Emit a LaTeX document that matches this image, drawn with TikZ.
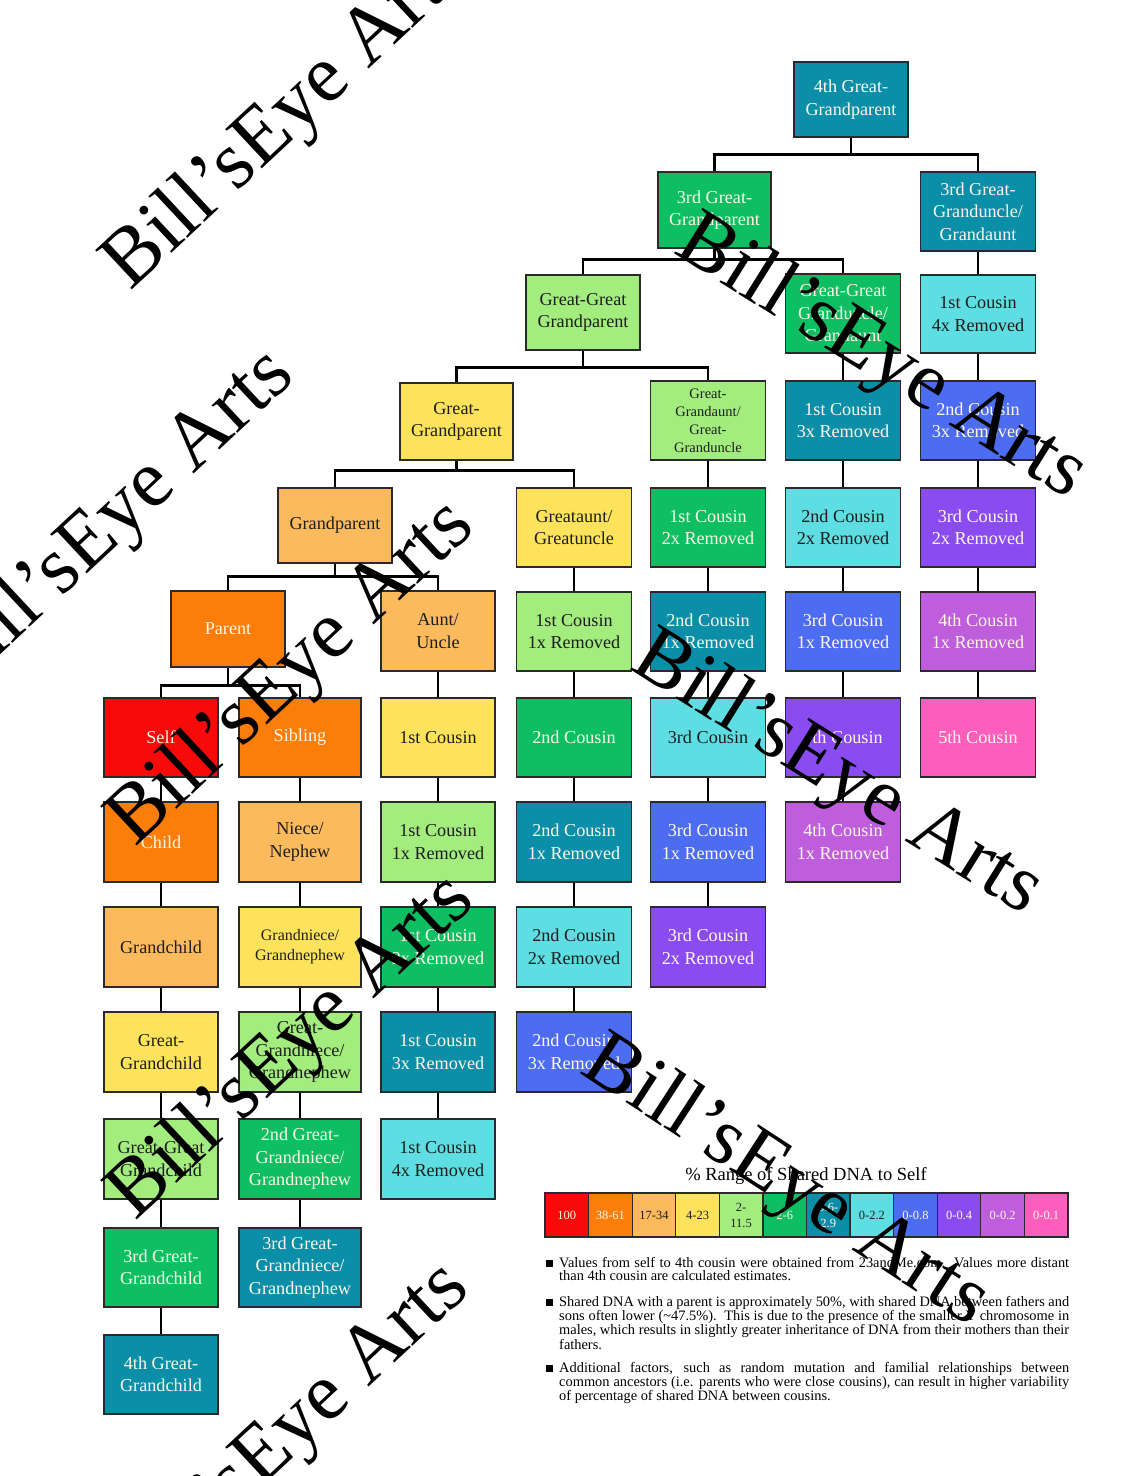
\documentclass[tikz,border=0pt]{standalone}
\usepackage{fontspec}
\setmainfont{Liberation Serif}
\usetikzlibrary{calc}
\definecolor{cRed}{HTML}{F80A0A}
\definecolor{cOrange}{HTML}{FB7D0A}
\definecolor{cLOrange}{HTML}{FCBA5C}
\definecolor{cYellow}{HTML}{FDE35C}
\definecolor{cLGreen}{HTML}{A3EC7E}
\definecolor{cGreen}{HTML}{0EBE62}
\definecolor{cTeal}{HTML}{0B8FA8}
\definecolor{cCyan}{HTML}{5EDEE2}
\definecolor{cBlue}{HTML}{4C6CF2}
\definecolor{cPurple}{HTML}{8A4CF0}
\definecolor{cViolet}{HTML}{BE5EDC}
\definecolor{cPink}{HTML}{FB5EBC}
\definecolor{cLight}{HTML}{FFF6E8}
\definecolor{cDark}{HTML}{1E1E1E}
\definecolor{cEdge}{HTML}{2A2A2A}
\tikzset{
  box/.style={draw=cEdge, line width=1.5pt, minimum width=115pt, minimum height=80pt,
    inner sep=0pt, align=center, font=\fontsize{18.2}{22.5}\selectfont},
  small/.style={font=\fontsize{14.5}{18}\selectfont},
  smallish/.style={font=\fontsize{16}{20}\selectfont},
  kRed/.style={fill=cRed,text=cLight},
  kOrange/.style={fill=cOrange,text=cLight},
  kLOrange/.style={fill=cLOrange,text=cDark},
  kYellow/.style={fill=cYellow,text=cDark},
  kLGreen/.style={fill=cLGreen,text=cDark},
  kGreen/.style={fill=cGreen,text=cLight},
  kTeal/.style={fill=cTeal,text=cLight},
  kCyan/.style={fill=cCyan,text=cDark},
  kBlue/.style={fill=cBlue,text=cLight},
  kPurple/.style={fill=cPurple,text=cLight},
  kViolet/.style={fill=cViolet,text=cLight},
  kPink/.style={fill=cPink,text=cLight},
  conn/.style={line width=2.6pt, draw=black},
  cell/.style={draw=cEdge, line width=1.3pt, minimum width=43.6pt, minimum height=44pt,
    inner sep=0pt, align=center, font=\fontsize{12.5}{16}\selectfont},
  note/.style={anchor=north west, inner sep=0pt, text width=510pt, align=justify,
    font=\fontsize{14.4}{13}\selectfont},
  bul/.style={fill=black, minimum size=7pt, inner sep=0pt},
  wm/.style={font=\fontsize{82}{82}\selectfont, text=black, inner sep=0pt, anchor=base west},
}
\begin{document}
\begin{tikzpicture}[x=1pt,y=-1pt]
\useasboundingbox (0,0) rectangle (1140,1476);
\fill[white] (0,0) rectangle (1140,1476);
\clip (0,0) rectangle (1140,1476);

% ancestors
\node[box,kTeal,minimum width=114pt,minimum height=75pt] (gg4) at (851,99.5) {4th Great-\\Grandparent};
\node[box,kGreen,minimum width=113pt,minimum height=76pt] (gg3) at (714.5,210) {3rd Great-\\Grandparent};
\node[box,kTeal,minimum height=79pt] (gu3) at (978,211.5) {3rd Great-\\Granduncle/\\Grandaunt};
\node[box,kLGreen,minimum width=114pt,minimum height=75pt] (gg2) at (583,312.5) {Great-Great\\Grandparent};
\node[box,kGreen,minimum height=79pt] (gu2) at (843,313.5) {Great-Great\\Granduncle/\\Grandaunt};
\node[box,kCyan,minimum height=78pt] (c14G) at (978,314) {1st Cousin\\4x Removed};
\node[box,kYellow,minimum width=113pt,minimum height=77pt] (gg1) at (456.5,421.5) {Great-\\Grandparent};
\node[box,kLGreen,small,minimum height=79pt] (gu1) at (708,420.5) {Great-\\Grandaunt/\\Great-\\Granduncle};
\node[box,kTeal,minimum height=79pt] (c13F) at (843,420.5) {1st Cousin\\3x Removed};
\node[box,kBlue,minimum height=79pt] (c23G) at (978,420.5) {2nd Cousin\\3x Removed};
\node[box,kLOrange,minimum width=114pt,minimum height=75pt] (gp) at (335,525.5) {Grandparent};
\node[box,kYellow,minimum height=79pt] (gu) at (574,527.5) {Greataunt/\\Greatuncle};
\node[box,kGreen,minimum height=79pt] (c12E) at (708,527.5) {1st Cousin\\2x Removed};
\node[box,kCyan,minimum height=79pt] (c22F) at (843,527.5) {2nd Cousin\\2x Removed};
\node[box,kPurple,minimum height=79pt] (c32G) at (978,527.5) {3rd Cousin\\2x Removed};
\node[box,kOrange,minimum width=114pt,minimum height=76pt] (par) at (228,629) {Parent};
\node[box,kLOrange,minimum width=114pt] (au) at (438,631) {Aunt/\\Uncle};
\node[box,kLGreen,minimum height=79pt] (c11D) at (574,631.5) {1st Cousin\\1x Removed};
\node[box,kTeal,minimum height=79pt] (c21E) at (708,631.5) {2nd Cousin\\1x Removed};
\node[box,kBlue,minimum height=79pt] (c31F) at (843,631.5) {3rd Cousin\\1x Removed};
\node[box,kViolet,minimum height=79pt] (c41G) at (978,631.5) {4th Cousin\\1x Removed};

% row self
\node[box,kRed,minimum width=114pt,minimum height=79pt] (self) at (161,737.5) {Self};
\node[box,kOrange,minimum width=122pt,minimum height=79pt] (sib) at (300,737.5) {Sibling};
\node[box,kYellow,minimum width=114pt,minimum height=79pt] (c1) at (438,737.5) {1st Cousin};
\node[box,kGreen,minimum height=79pt] (c2) at (574,737.5) {2nd Cousin};
\node[box,kCyan,minimum height=79pt] (c3) at (708,737.5) {3rd Cousin};
\node[box,kPurple,minimum height=79pt] (c4) at (843,737.5) {4th Cousin};
\node[box,kPink,minimum height=79pt] (c5) at (978,737.5) {5th Cousin};

% row child
\node[box,kOrange,minimum width=114pt] (ch1) at (161,842) {Child};
\node[box,kLOrange,minimum width=122pt] (nn1) at (300,842) {Niece/\\Nephew};
\node[box,kLGreen,minimum width=114pt] (c11C) at (438,842) {1st Cousin\\1x Removed};
\node[box,kTeal] (c21D) at (574,842) {2nd Cousin\\1x Removed};
\node[box,kBlue] (c31E) at (708,842) {3rd Cousin\\1x Removed};
\node[box,kViolet] (c41F) at (843,842) {4th Cousin\\1x Removed};

% row grandchild
\node[box,kLOrange,minimum width=114pt] (ch2) at (161,947) {Grandchild};
\node[box,kYellow,smallish,minimum width=122pt] (nn2) at (300,947) {Grandniece/\\Grandnephew};
\node[box,kGreen,minimum width=114pt] (c12C) at (438,947) {1st Cousin\\2x Removed};
\node[box,kCyan] (c22D) at (574,947) {2nd Cousin\\2x Removed};
\node[box,kPurple] (c32E) at (708,947) {3rd Cousin\\2x Removed};

% row great-grandchild
\node[box,kYellow,minimum width=114pt] (ch3) at (161,1052) {Great-\\Grandchild};
\node[box,kLGreen,minimum width=122pt] (nn3) at (300,1052) {Great-\\Grandniece/\\Grandnephew};
\node[box,kTeal,minimum width=114pt] (c13C) at (438,1052) {1st Cousin\\3x Removed};
\node[box,kBlue] (c23D) at (574,1052) {2nd Cousin\\3x Removed};

% row great-great
\node[box,kLGreen,minimum width=114pt] (ch4) at (161,1159) {Great-Great\\Grandchild};
\node[box,kGreen,minimum width=122pt] (nn4) at (300,1159) {2nd Great-\\Grandniece/\\Grandnephew};
\node[box,kCyan,minimum width=114pt] (c14C) at (438,1159) {1st Cousin\\4x Removed};

% row 3rd great
\node[box,kGreen,minimum width=114pt,minimum height=79pt] (ch5) at (161,1267.5) {3rd Great-\\Grandchild};
\node[box,kTeal,minimum width=122pt,minimum height=79pt] (nn5) at (300,1267.5) {3rd Great-\\Grandniece/\\Grandnephew};

% row 4th great
\node[box,kTeal,minimum width=114pt,minimum height=79pt] (ch6) at (161,1374.5) {4th Great-\\Grandchild};

% branches
\draw[conn] (gg4.south) -- ++(0,17) -| (gg3.north);
\draw[conn] (gg4.south) -- ++(0,17) -| (gu3.north);
\draw[conn] (gg3.south) -- ++(0,11) -| (gg2.north);
\draw[conn] (gg3.south) -- ++(0,11) -| (gu2.north);
\draw[conn] (gg2.south) -- ++(0,17) -| (gg1.north);
\draw[conn] (gg2.south) -- ++(0,17) -| (gu1.north);
\draw[conn] (gg1.south) -- ++(0,10) -| (gp.north);
\draw[conn] (gg1.south) -- ++(0,10) -| (gu.north);
\draw[conn] (gp.south) -- ++(0,13) -| (par.north);
\draw[conn] (gp.south) -- ++(0,13) -| (au.north);
\draw[conn] (par.south) -- ++(0,18) -| (self.north);
\draw[conn] (par.south) -- ++(0,18) -| (sib.north);

% columns
\foreach \a/\b in {self/ch1,ch1/ch2,ch2/ch3,ch3/ch4,ch4/ch5,ch5/ch6,
  sib/nn1,nn1/nn2,nn2/nn3,nn3/nn4,nn4/nn5,
  au/c1,c1/c11C,c11C/c12C,c12C/c13C,c13C/c14C,
  gu/c11D,c11D/c2,c2/c21D,c21D/c22D,c22D/c23D,
  gu1/c12E,c12E/c21E,c21E/c3,c3/c31E,c31E/c32E,
  gu2/c13F,c13F/c22F,c22F/c31F,c31F/c4,c4/c41F,
  gu3/c14G,c14G/c23G,c23G/c32G,c32G/c41G,c41G/c5}
  \draw[conn] (\a.south) -- (\b.north);

% legend
\node[font=\fontsize{18.5}{20}\selectfont, inner sep=0pt] (ltitle) at (806,1176) {\% Range of Shared DNA to Self};
\node[cell,kRed] (l1) at (566.8,1215) {100};
\node[cell,kOrange] (l2) at (610.4,1215) {38-61};
\node[cell,kLOrange] (l3) at (654.0,1215) {17-34};
\node[cell,kYellow] (l4) at (697.6,1215) {4-23};
\node[cell,kLGreen] (l5) at (741.1,1215) {2-\\11.5};
\node[cell,kGreen] (l6) at (784.7,1215) {2-6};
\node[cell,kTeal] (l7) at (828.3,1215) {0.6-\\2.9};
\node[cell,kCyan] (l8) at (871.9,1215) {0-2.2};
\node[cell,kBlue] (l9) at (915.5,1215) {0-0.8};
\node[cell,kPurple] (l10) at (959.1,1215) {0-0.4};
\node[cell,kViolet] (l11) at (1002.6,1215) {0-0.2};
\node[cell,kPink] (l12) at (1046.2,1215) {0-0.1};

% notes
\node[bul] (b1) at (549.5,1263.5) {};
\node[note] (n1) at (559,1257) {Values from self to 4th cousin were obtained from 23andMe.com.\ \ Values more distant\linebreak than 4th cousin are calculated estimates.};
\node[bul] (b2) at (549.5,1302.5) {};
\node[note] (n2) at (559,1296) {Shared DNA with a parent is approximately 50\%, with shared DNA between fathers and\linebreak sons often lower (\textasciitilde47.5\%).\ \ This is due to the presence of the smaller Y chromosome in\linebreak males, which results in slightly greater inheritance of DNA from their mothers than their\linebreak fathers.};
\node[bul] (b3) at (549.5,1368.5) {};
\node[note] (n3) at (559,1362) {Additional factors, such as random mutation and familial relationships between\linebreak common ancestors (i.e. parents who were close cousins), can result in higher variability\linebreak of percentage of shared DNA between cousins.};

% watermarks
\node[wm,rotate=43] (w1) at (130,292) {Bill’sEye Arts};
\node[wm,rotate=43] (w2) at (-45,697) {Bill’sEye Arts};
\node[wm,rotate=43] (w3) at (135,848) {Bill’sEye Arts};
\node[wm,rotate=43] (w4) at (135,1222) {Bill’sEye Arts};
\node[wm,rotate=43] (w5) at (130,1610) {Bill’sEye Arts};
\node[wm,rotate=-32] (w6) at (672,252) {Bill’sEye Arts};
\node[wm,rotate=-32] (w7) at (628,668) {Bill’sEye Arts};
\node[wm,rotate=-33] (w8) at (578,1072) {Bill’sEye Arts};
\end{tikzpicture}
\end{document}
